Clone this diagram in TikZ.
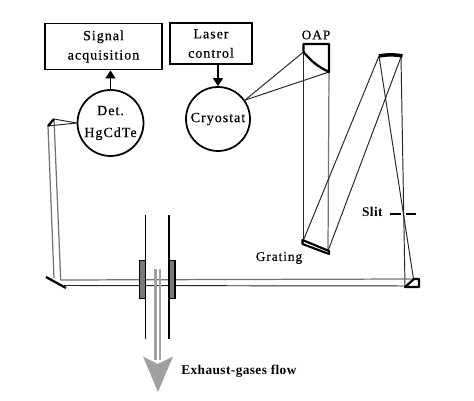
\documentclass[tikz,border=0pt]{standalone}
\usepackage{fontspec}
\setmainfont[LetterSpace=7,FakeBold=0.35]{Liberation Serif}
\newfontfamily\boldlabel[LetterSpace=3]{Liberation Serif Bold}
\usetikzlibrary{arrows.meta,positioning,calc}
\definecolor{flowgray}{RGB}{160,160,160}
\definecolor{wingray}{RGB}{120,120,120}

\begin{document}
\begin{tikzpicture}[
  x=0.02cm, y=-0.02cm,
  sub/.style={draw, line width=1pt, align=center, font=\fontsize{8}{11}\selectfont, inner sep=0pt},
  disc/.style={draw, line width=1pt, circle, align=center, inner sep=0pt,
               font=\fontsize{8}{12.5}\selectfont},
  lbl/.style={font=\fontsize{7.6}{9}\selectfont, inner sep=0pt},
  beam/.style={line width=0.55pt, black!85},
  beamg/.style={line width=0.7pt, black!55},
  feed/.style={line width=1pt, -{Triangle[length=4.5pt,width=5.5pt]}},
  optic/.style={line width=1.3pt, line join=round},
]
\useasboundingbox (0,0) rectangle (474,401);

% electronics
\node[sub, minimum width=2.34cm, minimum height=0.92cm] (sig) at (103.5,46.5) {Signal\\acquisition};
\node[sub, minimum width=1.64cm, minimum height=0.81cm] (las) at (211,43.5) {Laser\\control};
\node[disc, minimum size=1.32cm] (det) at (110.5,123) {Det.\\HgCdTe};
\node[disc, minimum size=1.28cm] (cry) at (218,119) {Cryostat};
\draw[feed] (det.north) -- (det.north |- sig.south);
\draw[feed] (las.south -| cry.north) -- (cry.north);

% points on the optical path
\coordinate (oapa) at (303.5,52);
\coordinate (oapb) at (329,72);
\coordinate (graa) at (303.5,240);
\coordinate (grab) at (328,251);
\coordinate (cama) at (379,56);
\coordinate (camb) at (401,57);
\coordinate (fola) at (405,286);
\coordinate (folb) at (413.5,279);
\coordinate (lefa) at (60.7,280);
\coordinate (lefb) at (64,285.5);
\coordinate (lefc) at (54,278);
\coordinate (topa) at (54,119);
\coordinate (topb) at (48,126);

% beams
\draw[beam] (cry.35) -- (oapa);
\draw[beam] (cry.35) -- (oapb);
\draw[beam] (oapa) -- (graa);
\draw[beamg] (oapb) -- (grab);
\draw[beam] (graa) -- (cama);
\draw[beam] (grab) -- (camb);
\draw[beam] (cama) -- (folb);
\draw[beam] (camb) -- (fola);
\draw[beamg] (folb) -- (lefa);
\draw[beam] (fola) -- (lefb);
\draw[beamg] (lefa) -- (topa);
\draw[beamg] (lefc) -- (topb);
\draw[beam] (topa) -- (det.west);
\draw[beam] (topb) -- (det.west);

% optics
\draw[optic] (oapa) -- (303.5,44) -- (329,44) -- (oapb) to[bend left=12] (oapa);
\draw[line width=2pt] (cama) to[bend left=10] (402.5,56);
\draw[optic, fill=white, line width=1.2pt] (302.5,240) -- (329,251) -- (329,254) -- (302.5,244) -- cycle;
\draw[line width=1.7pt] (390,214) -- (401,214);
\draw[line width=1.7pt] (406,214) -- (416,214);
\draw[optic, line width=1.2pt, fill=white] (405,287) -- (414,279) -- (419,279) -- (419,287) -- cycle;
\draw[line width=1.3pt] (46,277) -- (66,288);
\draw[line width=1.3pt] (topb) -- (topa);

% probe
\draw[line width=0.9pt] (145.7,215) -- (145.7,339);
\draw[line width=0.9pt] (169,215) -- (169,339);
\draw[line width=0.7pt, fill=wingray] (139.5,260.5) rectangle (145.7,298.5);
\draw[line width=0.7pt, fill=wingray] (169,260.5) rectangle (175,298.5);
\coordinate (flowa) at (155.5,269);
\coordinate (flowb) at (160,269);
\draw[flowgray, line width=1.2pt] (flowa) -- (155.5,360);
\draw[flowgray, line width=1.2pt] (flowb) -- (160,360);
\fill[flowgray] (143,356.5) -- (157.7,364) -- (173,356.5) -- (158,392) -- cycle;

% labels
\node[lbl] (oapl) at (316,35) {OAP};
\node[lbl, anchor=east] (slitl) at (383,212) {\boldlabel Slit};
\node[lbl] (gral) at (279,258) {Grating};
\node[lbl, anchor=west] (exhl) at (181,371) {\boldlabel Exhaust-gases flow};
\end{tikzpicture}
\end{document}
